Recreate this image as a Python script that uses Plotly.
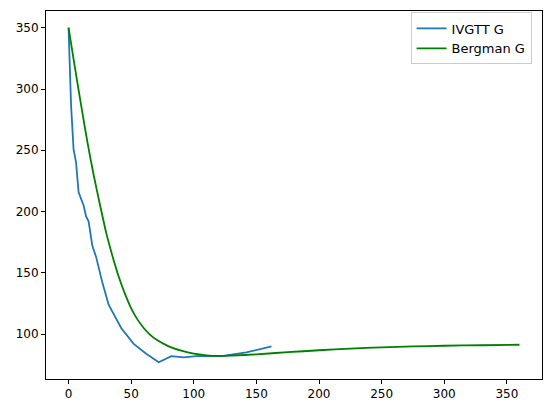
import plotly.graph_objects as go

# IVGTT measured glucose
ivgtt_t = [0, 2, 4, 6, 8, 10, 12, 14, 16, 19, 22, 27, 32, 42, 52, 62, 72, 82, 92, 102, 122, 142, 162]
ivgtt_g = [350, 287, 251, 240, 216, 211, 205, 196, 192, 172, 163, 142, 124, 105, 92, 84, 77, 82, 81, 82, 82, 85, 90]

# Bergman model glucose
berg_t = [0, 5, 10, 15, 20, 25, 30, 35, 40, 45, 50, 55, 60, 65, 70, 80, 90, 100, 110, 120, 130,
          150, 175, 200, 225, 250, 275, 300, 330, 360]
berg_g = [350, 318, 287, 257, 230, 206, 183, 164, 147, 133, 121, 112, 105, 99.5, 95.5, 90, 86.5, 84,
          82.7, 82.2, 82.4, 83.5, 85.2, 86.8, 88.2, 89.2, 89.9, 90.5, 90.9, 91.3]

x_ticks = [0, 50, 100, 150, 200, 250, 300, 350]
y_ticks = [100, 150, 200, 250, 300, 350]

fig = go.Figure()
fig.add_trace(go.Scatter(x=ivgtt_t, y=ivgtt_g, mode="lines", name="IVGTT G",
                         line=dict(color="#1f77b4", width=1.8)))
fig.add_trace(go.Scatter(x=berg_t, y=berg_g, mode="lines", name="Bergman G",
                         line=dict(color="#008000", width=1.8, shape="spline", smoothing=0.6)))

axis_common = dict(showline=True, linecolor="black", linewidth=1, mirror=True,
                   ticks="outside", ticklen=4, tickcolor="black", showgrid=False,
                   zeroline=False, tickfont=dict(family="DejaVu Sans", size=12, color="black"))

fig.update_layout(
    width=552, height=413,
    margin=dict(l=46, r=10, t=11, b=34),
    paper_bgcolor="white", plot_bgcolor="white",
    showlegend=True,
    legend=dict(x=0.979, y=0.996, xanchor="right", yanchor="top",
                bgcolor="rgba(255,255,255,0.8)", bordercolor="#cccccc", borderwidth=1,
                font=dict(family="DejaVu Sans", size=13, color="black"),
                tracegroupgap=0, itemwidth=30),
    xaxis=dict(range=[-18, 378], tickvals=x_ticks, **axis_common),
    yaxis=dict(range=[63.35, 363.65], tickvals=y_ticks, **axis_common),
)

fig.write_html("out.html", config={"displayModeBar": False},
               post_script="document.body.style.margin='0px';document.body.style.overflow='hidden';")
